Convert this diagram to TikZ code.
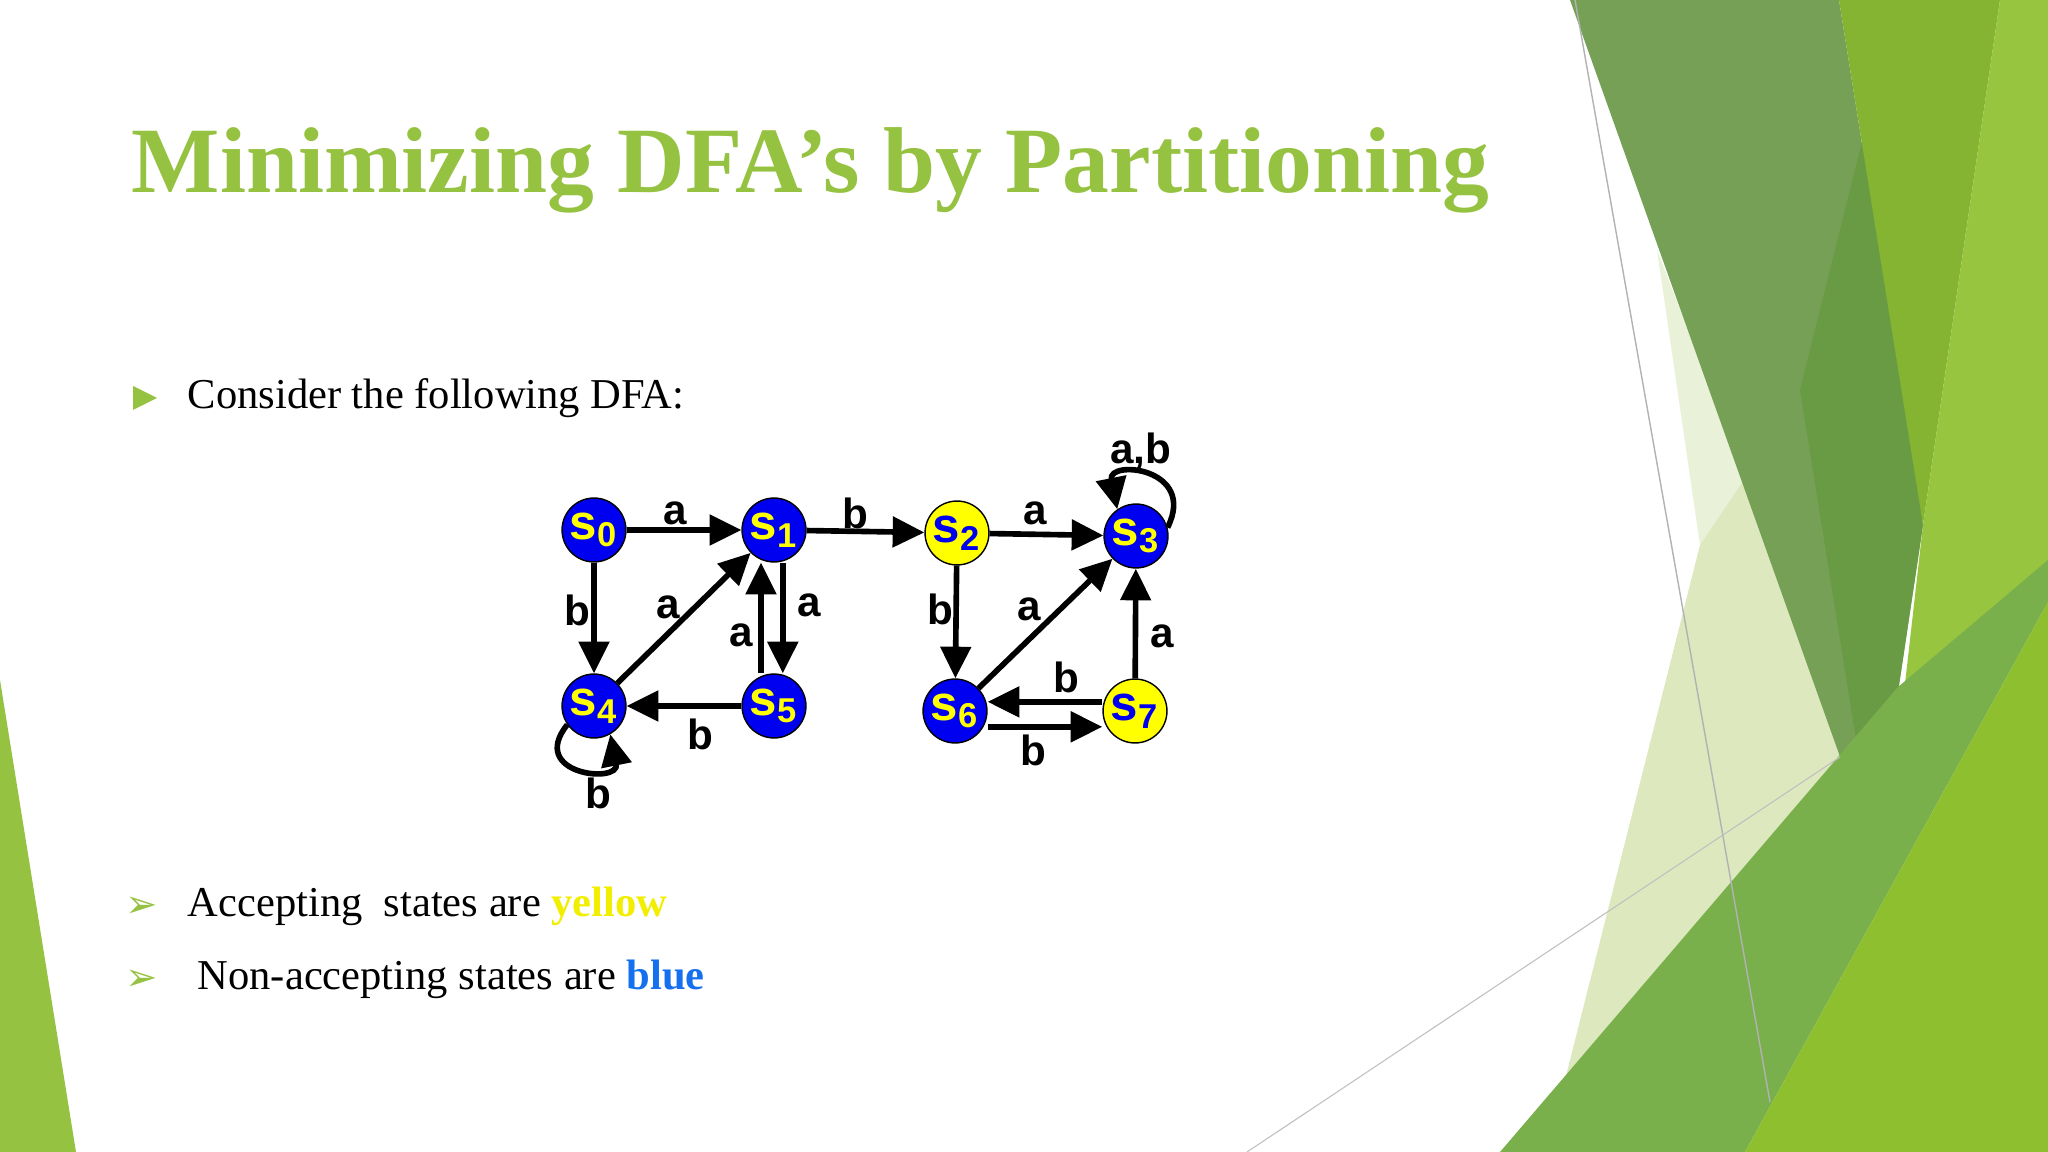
\documentclass[tikz,border=0pt]{standalone}
\usepackage{fontspec}
\setmainfont{Liberation Serif}
\newfontfamily\arialf{Liberation Sans}
\newfontfamily\dejavu{DejaVu Sans}
\usetikzlibrary{arrows.meta}
\definecolor{titlegreen}{HTML}{96C241}
\definecolor{olive}{HTML}{76A055}
\definecolor{midg}{HTML}{84B431}
\definecolor{lightg}{HTML}{97C53F}
\definecolor{limeg}{HTML}{8EBF2F}
\definecolor{bandg}{HTML}{7AB04C}
\definecolor{darkg}{HTML}{699B45}
\definecolor{paleg}{HTML}{DDE8BF}
\definecolor{paleg2}{HTML}{E9F1D8}
\definecolor{stblue}{HTML}{0000F0}
\definecolor{styellow}{HTML}{FFFF00}
\definecolor{txtyellow}{HTML}{F2EE00}
\definecolor{txtblue}{HTML}{1570F0}
\tikzset{
 st/.style={circle,draw=black,line width=0.4pt,minimum size=64*0.284pt,inner sep=0pt,font=\arialf\bfseries\fontsize{14}{14}\selectfont},
 nacc/.style={st,fill=stblue,text=styellow},
 acc/.style={st,fill=styellow,text=stblue},
 tr/.style={line width=1.6pt,-{Triangle[length=9pt,width=8.5pt]}},
 lb/.style={font=\arialf\bfseries\fontsize{12}{12}\selectfont},
 body/.style={font=\fontsize{12.1}{15}\selectfont,anchor=west,inner sep=0pt}
}
\begin{document}
\begin{tikzpicture}[x=0.01cm,y=-0.01cm]
\useasboundingbox (0,0) rectangle (2048,1152);
\fill[white] (0,0) rectangle (2048,1152);
% background shapes
\fill[paleg2] (1657,250) -- (1745,478) -- (1700,545) -- cycle;
\fill[paleg] (1745,478) -- (1845,760) -- (1565,1080) -- (1700,545) -- cycle;
\fill[olive] (1570,0) -- (1839,0) -- (1923,525) -- (1874,852) -- cycle;
\fill[darkg] (1800,390) -- (1870,110) -- (1923,525) -- (1874,852) -- cycle;
\fill[midg] (1839,0) -- (2000,0) -- (1923,525) -- cycle;
\fill[lightg] (2000,0) -- (2048,0) -- (2048,602) -- (1885,860) -- (1923,525) -- cycle;
\fill[bandg] (1500,1152) -- (1898,687) -- (2048,560) -- (2048,602) -- (1745,1152) -- cycle;
\fill[limeg] (1745,1152) -- (2048,602) -- (2048,1152) -- cycle;
\draw[black!30,line width=0.4pt] (1575,0) -- (1770,1102);
\draw[black!25,line width=0.3pt] (1247,1152) -- (1840,757);
\fill[titlegreen] (0,680) -- (0,1152) -- (76,1152) -- cycle;
% text
\node[anchor=west,inner sep=0pt,text=titlegreen,font=\bfseries\fontsize{26.6}{32}\selectfont] (title) at (131,170) {Minimizing DFA’s by Partitioning};
\fill[titlegreen] (133,386) -- (157,398) -- (133,410) -- cycle;
\node[body] (t1) at (187,398) {Consider the following DFA:};
\node[anchor=center,text=titlegreen,font=\dejavu\fontsize{11}{11}\selectfont] (b1) at (142,907) {➢};
\node[body] (t2) at (187,906) {Accepting\ \ states are \textbf{\textcolor{txtyellow}{yellow}}};
\node[anchor=center,text=titlegreen,font=\dejavu\fontsize{11}{11}\selectfont] (b2) at (142,980) {➢};
\node[body] (t3) at (197,979) {Non-accepting states are \textbf{\textcolor{txtblue}{blue}}};
% DFA
\node[nacc] (s0) at (594,530) {s\textsubscript{0}};
\node[nacc] (s1) at (774,530) {s\textsubscript{1}};
\node[acc] (s2) at (957,533) {s\textsubscript{2}};
\node[nacc] (s3) at (1136,536) {s\textsubscript{3}};
\node[nacc] (s4) at (594,706) {s\textsubscript{4}};
\node[nacc] (s5) at (774,706) {s\textsubscript{5}};
\node[nacc] (s6) at (955,711) {s\textsubscript{6}};
\node[acc] (s7) at (1135,711) {s\textsubscript{7}};
\draw[tr] (s0) -- (s1);
\draw[tr] (s1) -- (s2);
\draw[tr] (s2) -- (s3);
\draw[tr] (s0) -- (s4);
\draw[tr] (s4) -- (s1);
\draw[tr] ([xshift=-3.7pt]s5.north) -- ([xshift=-3.7pt]s1.south);
\draw[tr] ([xshift=2.5pt]s1.south) -- ([xshift=2.5pt]s5.north);
\draw[tr] (s5) -- (s4);
\draw[tr] (s2) -- (s6);
\draw[tr] (s6) -- (s3);
\draw[tr] (s7) -- (s3);
\draw[tr] ([yshift=2.6pt]s7.west) -- ([yshift=2.6pt]s6.east);
\draw[tr] ([yshift=-4.5pt]s6.east) -- ([yshift=-4.5pt]s7.west);
\draw[tr] (s4.215) .. controls +(-40,50) and +(10,50) .. (s4.-60);
\draw[tr] (s3.15) .. controls +(30,-60) and +(-10,-50) .. (s3.125);
\node[lb] (l01) at (675,513) {a};
\node[lb] (l12) at (855,513) {b};
\node[lb] (l23) at (1035,513) {a};
\node[lb] (l33) at (1141,451) {a,b};
\node[lb] (l04) at (577,610) {b};
\node[lb] (l41) at (668,607) {a};
\node[lb] (l51) at (741,635) {a};
\node[lb] (l15) at (809,605) {a};
\node[lb] (l54) at (700,734) {b};
\node[lb] (l44) at (598,793) {b};
\node[lb] (l26) at (940,609) {b};
\node[lb] (l63) at (1029,609) {a};
\node[lb] (l73) at (1162,636) {a};
\node[lb] (l76) at (1066,677) {b};
\node[lb] (l67) at (1033,750) {b};
\end{tikzpicture}
\end{document}
